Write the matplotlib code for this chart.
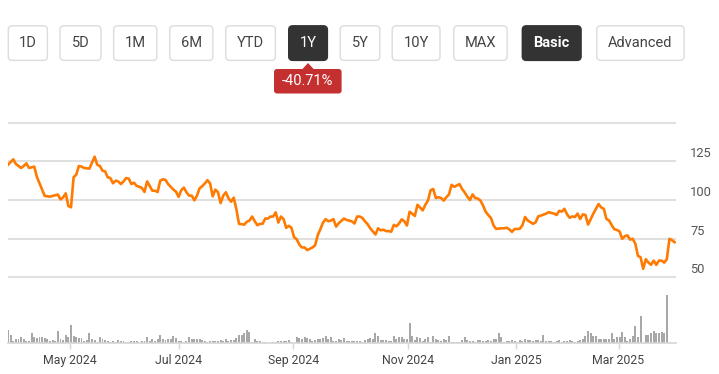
import matplotlib
matplotlib.use('Agg')
import matplotlib.pyplot as plt
from matplotlib.patches import FancyBboxPatch, Polygon

plt.rcParams['font.family'] = ['Roboto', 'DejaVu Sans']

# ---------------- data ----------------
day = [0, 2, 3, 5, 6, 7, 8, 10, 11, 12, 14, 16, 19, 20, 21, 22, 23, 24, 25, 26,
       27, 28, 29, 31, 33, 34, 35, 36, 37, 38, 39, 40, 41, 42, 43, 44, 45, 46, 47, 48,
       49, 50, 51, 52, 53, 54, 55, 56, 57, 58, 59, 60, 61, 63, 64, 65, 66, 67, 68, 69,
       70, 71, 72, 73, 74, 75, 76, 77, 78, 79, 80, 81, 82, 83, 84, 85, 86, 87, 88, 90,
       91, 92, 93, 94, 95, 96, 97, 98, 99, 100, 101, 102, 103, 104, 105, 106, 107, 108, 109, 110,
       111, 112, 113, 114, 116, 117, 118, 119, 120, 121, 122, 123, 124, 125, 126, 128, 129, 131, 132, 133,
       134, 135, 136, 137, 138, 140, 141, 142, 143, 144, 145, 146, 147, 148, 149, 150, 151, 152, 153, 154,
       155, 156, 157, 158, 159, 160, 161, 162, 163, 164, 165, 166, 167, 168, 169, 170, 171, 172, 173, 174,
       175, 176, 177, 178, 179, 180, 181, 182, 183, 184, 185, 186, 188, 189, 190, 191, 192, 193, 195, 196,
       197, 198, 200, 201, 202, 203, 205, 206, 208, 209, 210, 211, 212, 213, 214, 215, 216, 217, 218, 219,
       220, 221, 222, 223, 225, 226, 227, 228, 229, 230, 231, 232, 233, 234, 235, 236, 237, 238, 239, 240,
       241, 242, 243, 244, 245, 246, 247, 248, 249, 250, 251, 252, 253, 254]

price = [122.8, 126.3, 123.3, 120.7, 122.0, 123.7, 120.7, 121.6, 115.0, 110.8, 102.6, 102.2, 103.5, 100.4, 101.7, 104.3, 96.1, 95.3, 114.7, 116.4,
         122.0, 121.6, 120.7, 120.3, 128.0, 122.8, 122.0, 119.0, 118.5, 114.7, 114.2, 110.8, 112.5, 112.0, 110.3, 112.0, 114.2, 113.8, 110.3, 111.2,
         109.1, 108.6, 107.8, 105.2, 112.0, 109.1, 106.0, 106.0, 105.2, 112.5, 113.4, 113.0, 110.3, 106.7, 105.4, 102.0, 106.3, 108.0, 105.0, 102.8,
         102.8, 99.8, 102.8, 107.6, 108.9, 110.7, 112.8, 110.7, 102.4, 106.7, 105.0, 98.0, 102.8, 105.0, 101.1, 98.9, 101.5, 94.1, 84.6, 84.1,
         85.9, 86.7, 89.3, 86.3, 83.7, 84.6, 84.6, 88.0, 88.0, 89.3, 89.3, 92.0, 85.4, 89.3, 87.6, 82.0, 83.3, 82.0, 75.9, 74.6,
         71.1, 69.3, 69.3, 67.6, 69.3, 70.7, 77.2, 81.1, 85.4, 87.6, 86.3, 86.7, 87.6, 82.8, 85.0, 88.0, 87.1, 86.2, 84.8, 89.3,
         89.3, 88.4, 86.2, 84.4, 81.7, 77.7, 81.7, 80.4, 80.8, 79.9, 79.9, 79.5, 83.9, 83.0, 84.8, 87.5, 86.2, 83.5, 92.4, 91.1,
         89.7, 96.9, 95.1, 93.3, 96.9, 99.6, 106.3, 107.1, 101.3, 101.8, 101.3, 99.6, 101.8, 103.6, 109.8, 108.5, 109.4, 110.3, 107.1, 104.9,
         102.2, 100.0, 103.6, 101.3, 100.9, 99.6, 96.4, 92.4, 90.2, 88.4, 83.5, 81.3, 81.7, 81.7, 82.1, 81.0, 79.4, 81.2, 81.4, 83.7,
         89.0, 86.8, 84.6, 85.5, 89.4, 89.9, 91.2, 92.1, 91.2, 90.3, 93.0, 92.5, 94.3, 90.7, 88.5, 89.4, 89.0, 91.2, 87.7, 90.7,
         90.3, 84.1, 87.7, 91.2, 97.4, 95.2, 94.3, 87.7, 86.8, 83.7, 81.1, 80.6, 79.7, 74.9, 76.6, 77.1, 74.4, 74.9, 71.8, 63.9,
         63.0, 55.5, 61.7, 59.5, 58.1, 60.8, 58.1, 60.8, 60.8, 59.5, 61.7, 74.9, 74.0, 72.7]

volume = [13.3, 8.7, 2.7, 4, 4.7, 6, 4.7, 2, 2, 10,
          6.7, 5.3, 6, 6, 5.3, 4.7, 2.7, 3.3, 2.7, 12,
          4.7, 3.3, 8.7, 6.7, 18.7, 7.3, 6, 5.3, 5.3, 2,
          3.3, 10, 4.7, 3.3, 1.3, 6, 4.7, 3.3, 2, 1.3,
          2, 1.3, 3.3, 2, 2, 1.3, 1.3, 2, 2, 2, 0.7,
          2.7, 2.7, 6, 2.7, 4, 2.7, 4, 8.7, 4.7, 3.3,
          4.7, 4, 7.3, 5.3, 2.7, 2, 0.7, 2, 6, 4.7,
          4, 4.7, 4, 3.3, 2, 1.3, 2, 2, 2.7, 2,
          3.3, 2.7, 4, 2.7, 3.3, 3.3, 5.3,
          8.7, 8.7, 10, 13.3, 11.3, 1.3, 4.7, 2, 2, 1.3,
          1.3, 0.7, 0.7, 1.3, 1.3, 2.7, 2, 2.7, 2, 3.3, 1.3,
          0.7, 6, 5.3, 4.7, 6, 5.3, 4.7, 2.7, 3.3, 4.7,
          4.7, 5.3, 7.3, 4.7, 6, 2.7, 2, 4.7, 3.3, 5.3,
          2.7, 2, 2.7, 2, 2.7, 2, 1.3, 3.3, 4.7, 5.3,
          4, 10, 7.3, 3.3, 3.3, 3.3, 2, 2.7, 7.3, 4,
          6, 6, 4.7, 4, 20, 7.3, 3.3, 6.7, 5.3, 2.7,
          4.7, 6.7, 1.3, 7.3, 4, 3.3, 2.7, 4, 3.3, 7.3,
          1.3, 1.3, 1.3, 1.3, 3.3, 6, 3.3, 2, 2,
          1.3, 3.3, 3.3, 2.7, 2, 3.3, 2.7, 4.7, 4.7, 10,
          6, 1.3, 2.7, 2.7, 3.3, 2.7, 1.3, 3.3, 2.7, 4.7,
          3.3, 3.3, 2.7, 3.3, 3.3, 2, 8.7, 2.7, 2.7, 2,
          1.3, 2.7, 3.3, 1.3, 2.7, 2.7, 3.3, 2, 1.3, 2,
          3.3, 4, 7.3, 12, 10, 7.3, 7.3, 4.7, 4.7, 4.7,
          4.7, 4.7, 10.7, 4.7, 6, 6, 11.3, 6, 2, 4.7,
          7.3, 17.3, 6.7, 27.3, 0, 8.7, 8.7, 10, 12, 10,
          10, 11.3, 10, 48.7]

month_ticks = [23.6, 65, 108.7, 152.5, 193.5, 232.6]
month_labels = ['May 2024', 'Jul 2024', 'Sep 2024', 'Nov 2024', 'Jan 2025', 'Mar 2025']
grid_levels = [50, 75, 100, 125, 150]
label_levels = [50, 75, 100, 125]

range_buttons = ['1D', '5D', '1M', '6M', 'YTD', '1Y', '5Y', '10Y', 'MAX']
mode_buttons = ['Basic', 'Advanced']
active = {'1Y', 'Basic'}
change_text = '-40.71%'

# ---------------- figure ----------------
W, H = 719, 374
fig = plt.figure(figsize=(W / 100, H / 100), dpi=100)
fig.patch.set_facecolor('white')

LEFT_PX, RIGHT_PX = 8, 676
left = LEFT_PX / W
width = (RIGHT_PX - LEFT_PX) / W
XMAX = 254.5

# price axes
ax = fig.add_axes([left, 1 - 290 / H, width, 180 / H])
ax.set_xlim(0, XMAX)
ax.set_ylim(41.8, 158.2)
for s in ax.spines.values():
    s.set_visible(False)
ax.set_xticks([])
ax.set_yticks(grid_levels)
ax.tick_params(axis='y', length=0, labelleft=False)
ax.yaxis.grid(True, color='#e0e0e0', linewidth=1.5)
ax.set_axisbelow(True)
ax.set_facecolor('none')
ax.plot(day, price, color='#ff7a00', linewidth=1.9, solid_joinstyle='round', zorder=3)
for v in label_levels:
    ax.annotate(str(v), xy=(1, v), xycoords=('axes fraction', 'data'),
                xytext=(10.2, 5.4), textcoords='offset points',
                ha='left', va='center', fontsize=9.3, color='#555555')

# volume axes
vax = fig.add_axes([left, 1 - 343.3 / H, width, 60 / H])
vax.set_xlim(0, XMAX)
vax.set_ylim(0, 60)
vax.bar(range(len(volume)), volume, width=0.75, color='#a8a8a8', linewidth=0)
for name, s in vax.spines.items():
    s.set_visible(name == 'bottom')
vax.spines['bottom'].set_color('#d6d6d6')
vax.spines['bottom'].set_linewidth(1.2)
vax.set_yticks([])
vax.set_xticks(month_ticks)
vax.set_xticklabels(month_labels, fontsize=8.8, color='#444444')
vax.tick_params(axis='x', length=4.5, width=1, color='#d6d6d6', pad=3)
vax.set_facecolor('none')

# UI overlay (buttons and change badge)
ui = fig.add_axes([0, 0, 1, 1], zorder=5)
ui.set_xlim(0, W)
ui.set_ylim(H, 0)
ui.axis('off')
ui.patch.set_alpha(0)

box_x = [(8.3, 47.4), (60, 101), (113.6, 156.8), (169.7, 212.9), (225.7, 275.4),
         (288.7, 327.4), (340.2, 379.8), (392.2, 440), (453.8, 507.1),
         (522.3, 581.1), (596.8, 684.1)]
by0, bh = 25.8, 34.6
for name, (x0, x1) in zip(range_buttons + mode_buttons, box_x):
    on = name in active
    p = FancyBboxPatch((x0, by0), x1 - x0, bh,
                       boxstyle='round,pad=0,rounding_size=4',
                       facecolor='#333333' if on else 'white',
                       edgecolor='#333333' if on else '#dcdcdc', linewidth=1.0)
    ui.add_patch(p)
    ui.text((x0 + x1) / 2, by0 + bh / 2, name, ha='center', va='center',
            fontsize=10.5, color='white' if on else '#444444',
            fontweight='bold' if name == 'Basic' else 'normal')

# change badge
bx0, bx1, bty0, bty1 = 274, 341.6, 69, 93.5
ui.add_patch(FancyBboxPatch((bx0, bty0), bx1 - bx0, bty1 - bty0,
                            boxstyle='round,pad=0,rounding_size=3',
                            facecolor='#c4302f', edgecolor='none'))
cx = (288.7 + 327.4) / 2
ui.add_patch(Polygon([(cx - 6, bty0 + 0.5), (cx, bty0 - 6), (cx + 6, bty0 + 0.5)],
                     closed=True, facecolor='#c4302f', edgecolor='none'))
ui.text((bx0 + bx1) / 2, (bty0 + bty1) / 2, change_text, ha='center', va='center',
        fontsize=10.5, color='white')

fig.savefig('out.png', dpi=100, facecolor='white')
